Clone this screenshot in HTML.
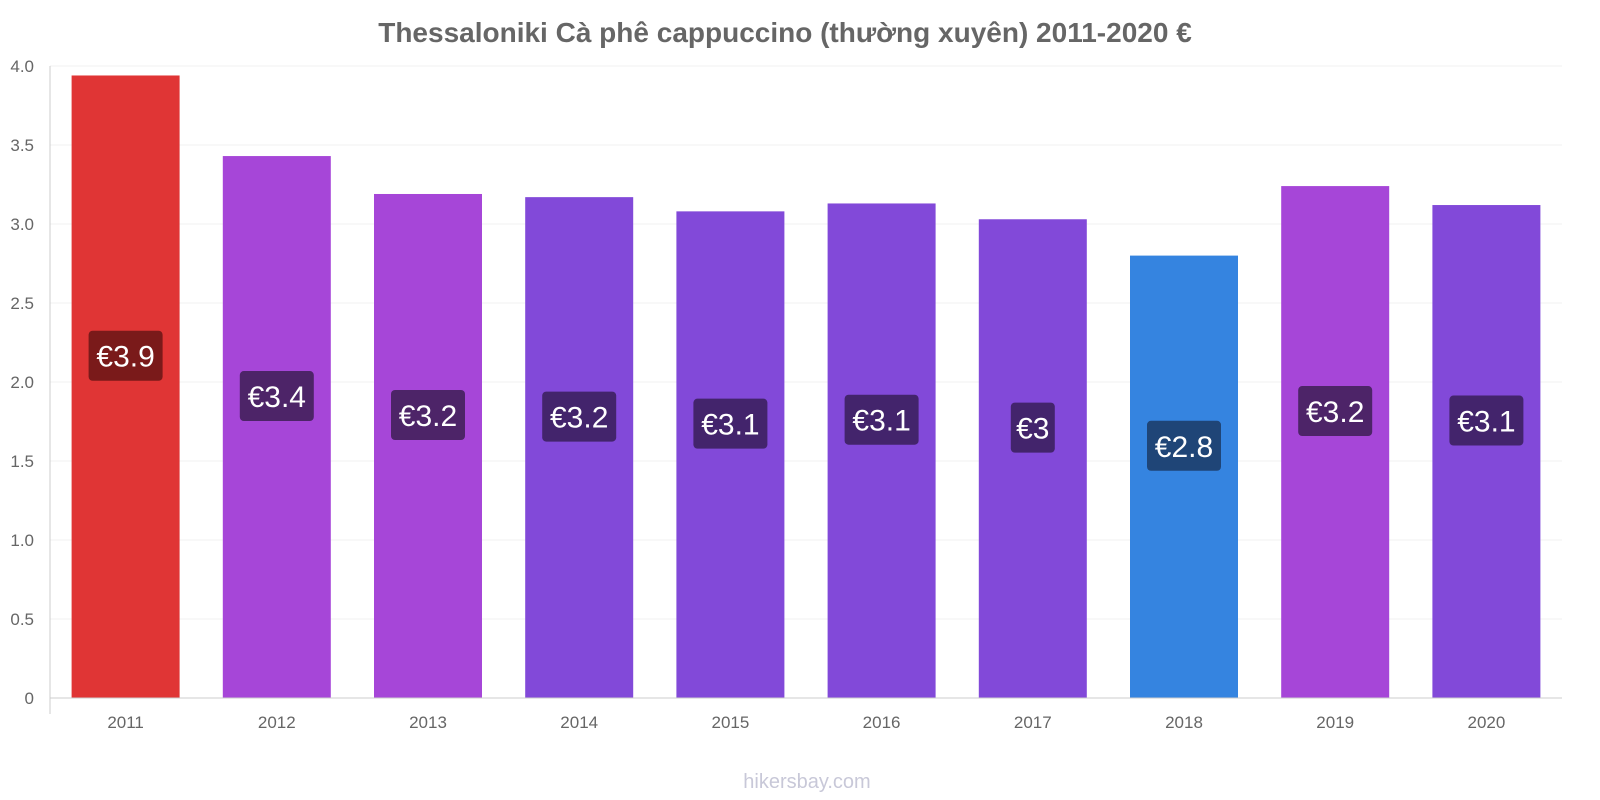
<!DOCTYPE html>
<html><head><meta charset="utf-8"><style>
html,body{margin:0;padding:0;background:#fff;font-family:"Liberation Sans",sans-serif;width:1600px;height:800px;overflow:hidden;}
svg{display:block;}
</style></head><body>
<svg id="chart" width="1600" height="800" xmlns="http://www.w3.org/2000/svg">
<text x="785" y="42" text-anchor="middle" font-size="28" font-weight="bold" fill="#666" font-family="Liberation Sans, sans-serif">Thessaloniki Cà phê cappuccino (thường xuyên) 2011-2020 €</text>
<g id="grid"></g><g id="bars"></g><g id="labels"></g><g id="axes"></g>
<text x="807" y="788" text-anchor="middle" font-size="20" fill="#c8c8d8" font-family="Liberation Sans, sans-serif">hikersbay.com</text>
</svg>
<script>
const categories = ["2011","2012","2013","2014","2015","2016","2017","2018","2019","2020"];
const values = [3.94,3.43,3.19,3.17,3.08,3.13,3.03,2.80,3.24,3.12];
const valueLabels = ["€3.9","€3.4","€3.2","€3.2","€3.1","€3.1","€3","€2.8","€3.2","€3.1"];
const yTicks = [0,0.5,1,1.5,2,2.5,3,3.5,4];
const yTickLabels = ["0","0.5","1.0","1.5","2.0","2.5","3.0","3.5","4.0"];
const colorGroups = ["red","pink","pink","purple","purple","purple","purple","blue","pink","purple"];

const NS="http://www.w3.org/2000/svg";
const x0=50,x1=1562,y0=698,yTop=66;
const y=v=>y0-(v/4)*(y0-yTop);
const band=(x1-x0)/categories.length;
const xc=i=>x0+band*(i+0.5);
const fill={red:"#e03535",pink:"#a646d8",purple:"#8249d9",blue:"#3584e0"};
const lbg={red:"#7a1a1a",pink:"#4d2468",purple:"#43246c",blue:"#1f4577"};
function mk(t,a,p){const e=document.createElementNS(NS,t);for(const k in a)e.setAttribute(k,a[k]);p.appendChild(e);return e;}
const grid=document.getElementById("grid"),bars=document.getElementById("bars"),labels=document.getElementById("labels"),axes=document.getElementById("axes");
yTicks.forEach((t,i)=>{
  const g=mk("line",{x1:x0,x2:x1,y1:y(t),y2:y(t),stroke:"#f2f2f2"},grid);
  
  
  const tx=mk("text",{x:34,y:y(t)+6,"text-anchor":"end","font-size":"17",fill:"#666"},axes);
  tx.textContent=yTickLabels[i];
  
  
});
const ax=mk("line",{x1:x0,x2:x0,y1:yTop,y2:714,stroke:"#ccc"},axes);


const bx=mk("line",{x1:x0,x2:x1,y1:y0,y2:y0,stroke:"#ccc"},axes);


categories.forEach((c,i)=>{
  const bw=108,top=y(values[i]);
  const r=mk("rect",{x:xc(i)-bw/2,y:top,width:bw,height:y0-top,fill:fill[colorGroups[i]]},bars);
  
  
  const t=mk("text",{x:xc(i),y:728,"text-anchor":"middle","font-size":"17",fill:"#666"},axes);
  t.textContent=c;
  
  
  const cy=(top+y0)/2-31;
  const w=valueLabels[i].length*15+14;
  const lb=mk("rect",{x:xc(i)-w/2,y:cy-25,width:w,height:50,rx:4,fill:lbg[colorGroups[i]]},labels);
  
  
  const lt=mk("text",{x:xc(i),y:cy+11,"text-anchor":"middle","font-size":"30",fill:"#fff"},labels);
  lt.textContent=valueLabels[i];
  
  
});
</script>
</body></html>
